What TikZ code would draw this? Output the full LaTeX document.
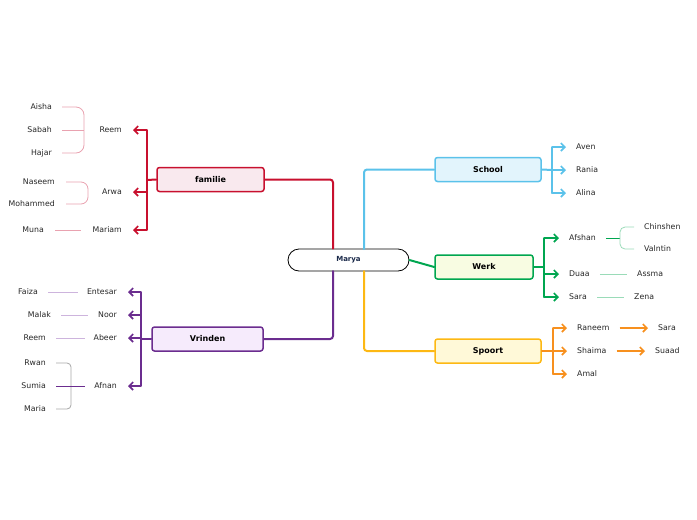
\documentclass[tikz,border=0pt]{standalone}
\usepackage{fontspec}
\setmainfont{DejaVu Sans}
\usetikzlibrary{arrows.meta,shapes.misc}
\definecolor{cR}{HTML}{C8102E}\definecolor{cRf}{HTML}{F9E9EE}\definecolor{cRl}{HTML}{E9A2B0}
\definecolor{cP}{HTML}{6B2D8F}\definecolor{cPf}{HTML}{F6EBFC}\definecolor{cPl}{HTML}{CDB4DD}
\definecolor{cB}{HTML}{5BC2EA}\definecolor{cBf}{HTML}{E2F4FC}
\definecolor{cG}{HTML}{00A650}\definecolor{cGf}{HTML}{F8FCE2}\definecolor{cGl}{HTML}{9ADBB8}
\definecolor{cO}{HTML}{F7901E}\definecolor{cY}{HTML}{FDB813}\definecolor{cYf}{HTML}{FFF9D8}
\definecolor{navy}{HTML}{1B2A4A}
\begin{document}
\begin{tikzpicture}[x=1pt,y=-1pt,
 topic/.style={draw=#1,line width=1.5pt,rounded corners=2.5pt,minimum height=24pt,inner sep=0pt,font=\fontsize{8}{9}\selectfont\bfseries},
 lbl/.style={inner sep=0pt,font=\fontsize{7.8}{9}\selectfont,text=black!85},
 br/.style={line width=2pt,color=#1,line cap=round},
 ar/.style={line width=2pt,color=#1,-{Straight Barb[length=4pt,width=8pt,line width=1.6pt]}},
 thin/.style={line width=0.8pt,color=#1}]
\useasboundingbox (0,0) rectangle (697,520);
% central
\node[draw,rounded rectangle,minimum width=121pt,minimum height=22pt,inner sep=0pt,font=\fontsize{7}{8}\selectfont\bfseries,text=navy,line width=0.8pt] (marya) at (348.5,260) {Marya};
\node[topic=cR,fill=cRf,minimum width=107pt] (fam) at (210.5,179.5) {familie};
\node[topic=cP,fill=cPf,minimum width=111pt] (vri) at (207.5,339) {Vrinden};
\node[topic=cB,fill=cBf,minimum width=106pt] (sch) at (488,169.5) {School};
\node[topic=cG,fill=cGf,minimum width=98pt] (wrk) at (484,267) {Werk};
\node[topic=cY,fill=cYf,minimum width=106pt] (spo) at (488,351) {Spoort};
% main connectors
\draw[br=cR,rounded corners=3pt] (fam.east) -| (marya.north -| 333,0);
\draw[br=cP,rounded corners=3pt] (vri.east) -| (333,271);
\draw[br=cB,rounded corners=3pt] (sch.west) -| (364,249);
\draw[br=cY,rounded corners=3pt] (spo.west) -| (364,271);
\draw[br=cG] (marya.east) -- (wrk.west);
% familie
\node[lbl,anchor=east] (reem) at (122,130) {Reem};
\node[lbl,anchor=east] (arwa) at (122,192) {Arwa};
\node[lbl,anchor=east] (mariam) at (122,230) {Mariam};
\draw[br=cR] (fam.west) -- (147,180);
\draw[br=cR] (147,130) -- (147,230);
\foreach \n/\y in {reem/130,arwa/192,mariam/230}{\draw[ar=cR] (147,\y) -- ([xshift=11pt]\n.east);}
\node[lbl,anchor=east] (aisha) at (52,107) {Aisha};
\node[lbl,anchor=east] (sabah) at (52,130) {Sabah};
\node[lbl,anchor=east] (hajar) at (52,153) {Hajar};
\draw[thin=cRl,rounded corners=8pt] ([xshift=10pt]aisha.east) -- (84,107) -- (84,153) -- ([xshift=10pt]hajar.east);
\draw[thin=cRl] ([xshift=10pt]sabah.east) -- (84,130);
\node[lbl,anchor=east] (nas) at (55,182) {Naseem};
\node[lbl,anchor=east] (moh) at (55,204) {Mohammed};
\draw[thin=cRl,rounded corners=7pt] ([xshift=11pt]nas.east) -- (88,182) -- (88,204) -- ([xshift=11pt]moh.east);
\node[lbl,anchor=east] (muna) at (44,230) {Muna};
\draw[thin=cRl] ([xshift=11pt]muna.east) -- ([xshift=-11pt]mariam.west);
% Vrinden
\node[lbl,anchor=east] (ent) at (117,292) {Entesar};
\node[lbl,anchor=east] (noor) at (117,315) {Noor};
\node[lbl,anchor=east] (abe) at (117,338) {Abeer};
\node[lbl,anchor=east] (afn) at (117,386) {Afnan};
\draw[br=cP] (vri.west) -- (141,339);
\draw[br=cP] (141,292) -- (141,386);
\foreach \n/\y in {ent/292,noor/315,abe/338,afn/386}{\draw[ar=cP] (141,\y) -- ([xshift=11pt]\n.east);}
\node[lbl,anchor=east] (fai) at (38,292) {Faiza};
\node[lbl,anchor=east] (mal) at (51,315) {Malak};
\node[lbl,anchor=east] (ree2) at (46,338) {Reem};
\draw[thin=cPl] ([xshift=10pt]fai.east) -- ([xshift=-9pt]ent.west);
\draw[thin=cPl] ([xshift=10pt]mal.east) -- ([xshift=-10pt]noor.west);
\draw[thin=cPl] ([xshift=10pt]ree2.east) -- ([xshift=-9pt]abe.west);
\node[lbl,anchor=east] (rwan) at (46,363) {Rwan};
\node[lbl,anchor=east] (sum) at (46,386) {Sumia};
\node[lbl,anchor=east] (mar) at (46,409) {Maria};
\draw[thin=black!35,rounded corners=4pt] ([xshift=10pt]rwan.east) -- (71,363) -- (71,409) -- ([xshift=10pt]mar.east);
\draw[thin=cP] ([xshift=10pt]sum.east) -- ([xshift=-9pt]afn.west);
% School
\node[lbl,anchor=west] (aven) at (576,147) {Aven};
\node[lbl,anchor=west] (rania) at (576,170) {Rania};
\node[lbl,anchor=west] (alina) at (576,193) {Alina};
\draw[br=cB] (sch.east) -- (552,170);
\draw[br=cB] (552,147) -- (552,193);
\foreach \n/\y in {aven/147,rania/170,alina/193}{\draw[ar=cB] (552,\y) -- ([xshift=-10pt]\n.west);}
% Werk
\node[lbl,anchor=west] (afs) at (569,238) {Afshan};
\node[lbl,anchor=west] (duaa) at (569,274) {Duaa};
\node[lbl,anchor=west] (sara) at (569,297) {Sara};
\draw[br=cG] (wrk.east) -- (544,267);
\draw[br=cG] (544,238) -- (544,297);
\foreach \n/\y in {afs/238,duaa/274,sara/297}{\draw[ar=cG] (544,\y) -- ([xshift=-10pt]\n.west);}
\node[lbl,anchor=west] (chin) at (644,227) {Chinshen};
\node[lbl,anchor=west] (valn) at (644,249) {Valntin};
\draw[thin=cG] ([xshift=10pt]afs.east) -- (620,238);
\draw[thin=cGl,rounded corners=5pt] ([xshift=-10pt]chin.west) -- (620,227) -- (620,249) -- ([xshift=-10pt]valn.west);
\node[lbl,anchor=west] (assma) at (637,274) {Assma};
\node[lbl,anchor=west] (zena) at (634,297) {Zena};
\draw[thin=cGl] ([xshift=10pt]duaa.east) -- ([xshift=-10pt]assma.west);
\draw[thin=cGl] ([xshift=10pt]sara.east) -- ([xshift=-10pt]zena.west);
% Spoort
\node[lbl,anchor=west] (ran) at (577,328) {Raneem};
\node[lbl,anchor=west] (sha) at (577,351) {Shaima};
\node[lbl,anchor=west] (ama) at (577,374) {Amal};
\draw[br=cO] (spo.east) -- (553,351);
\draw[br=cO] (553,328) -- (553,374);
\foreach \n/\y in {ran/328,sha/351,ama/374}{\draw[ar=cO] (553,\y) -- ([xshift=-10pt]\n.west);}
\node[lbl,anchor=west] (sara2) at (658,328) {Sara};
\node[lbl,anchor=west] (suaad) at (655,351) {Suaad};
\draw[ar=cO] ([xshift=10pt]ran.east) -- ([xshift=-10pt]sara2.west);
\draw[ar=cO] ([xshift=10pt]sha.east) -- ([xshift=-10pt]suaad.west);
\end{tikzpicture}
\end{document}
